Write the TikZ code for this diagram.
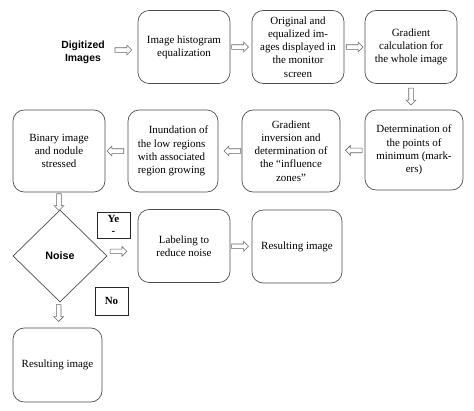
\documentclass[tikz,border=0pt]{standalone}
\usepackage{fontspec}
\setmainfont{Liberation Serif}
\setsansfont{Liberation Sans}
\usetikzlibrary{arrows.meta,shapes.geometric,shapes.arrows}
\tikzset{
  box/.style={draw=black!70, rounded corners=0.28cm, line width=0.5pt, minimum width=2.3cm,
    minimum height=1.825cm, align=center, inner sep=1pt, font=\fontsize{7.8}{9.4}\selectfont},
  tag/.style={draw=black!85, line width=0.5pt, minimum width=0.825cm, minimum height=0.65cm,
    align=center, inner sep=1pt, font=\fontsize{7.8}{9}\selectfont\bfseries},
  harrow/.style={draw=black!60, fill=white, line width=0.4pt, single arrow, single arrow head extend=0.065cm,
    single arrow head indent=0pt, inner sep=0.05cm, minimum height=0.42cm, minimum width=0.1cm}
}
\begin{document}
\begin{tikzpicture}[x=0.025cm, y=-0.025cm]
  \useasboundingbox (0,0) rectangle (474,410);
  % first row
  \node[align=center, font=\sffamily\bfseries\fontsize{7.4}{9}\selectfont] (dig) at (83,52) {Digitized\\Images};
  \node[box] (histo) at (184,47) {Image histogram\\equalization};
  \node[box] (shown) at (298,47) {Original and\\equalized im-\\ages displayed in\\the monitor\\screen};
  \node[box] (gradcalc) at (411,47) {Gradient\\calculation for\\the whole image};
  % second row
  \node[box, minimum width=2.45cm, minimum height=2cm] (minima) at (414,150) {Determination of\\the points of\\minimum (mark-\\ers)};
  \node[box, minimum width=2.45cm, minimum height=2.05cm] (inversion) at (291,151) {Gradient\\inversion and\\determination of\\the ``influence\\zones''};
  \node[box, minimum width=2.25cm, minimum height=2.05cm, align=left] (flood) at (173,151) {\hspace*{1em}Inundation of\\the low regions\\with associated\\region growing};
  \node[box, minimum height=2.05cm] (binary) at (59,151) {Binary image\\and nodule\\stressed};
  % third row
  \node[draw=black!70, line width=0.5pt, diamond, minimum width=2.35cm, minimum height=2.3cm, inner sep=0pt,
    font=\sffamily\bfseries\fontsize{7.6}{9}\selectfont] (noise) at (60,256) {Noise};
  \node[tag] (yes) at (113.5,225) {Ye\\-};
  \node[tag, minimum height=0.7cm] (no) at (111.5,301) {No};
  \node[box] (label) at (184,246) {Labeling to\\reduce noise};
  \node[box, minimum width=2.25cm] (result) at (297,246.5) {Resulting image};
  \node[box, minimum width=2.225cm, minimum height=1.85cm] (final) at (57.5,365) {Resulting image};
  % arrows
  \path (dig) -- node[harrow, pos=0.45] {} (histo);
  \path (histo) -- node[harrow, pos=0.4] {} (shown);
  \path (shown) -- node[harrow, pos=0.45] {} (gradcalc);
  \path (gradcalc.south) -- node[harrow, shape border rotate=270, pos=0.45] {} (gradcalc.south |- minima.north);
  \path (minima) -- node[harrow, shape border rotate=180, pos=0.4] {} (inversion);
  \path (inversion) -- node[harrow, shape border rotate=180, pos=0.35] {} (flood);
  \path (flood) -- node[harrow, shape border rotate=180] {} (binary);
  \path (binary.south) -- node[harrow, shape border rotate=270] {} (binary.south |- noise.north);
  \path (noise) -- node[harrow, pos=0.4] {} (label);
  \path (label) -- node[harrow, pos=0.4] {} (result);
  \path (noise) -- node[harrow, shape border rotate=270, pos=0.4] {} (final);
\end{tikzpicture}
\end{document}
